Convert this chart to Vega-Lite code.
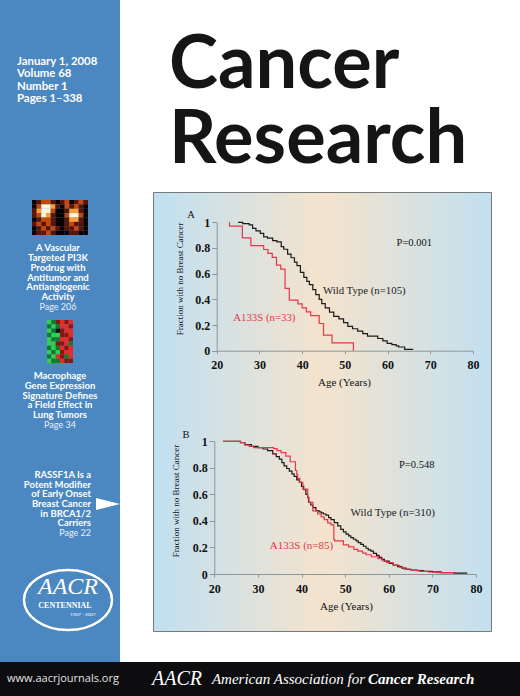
{
  "$schema": "https://vega.github.io/schema/vega-lite/v6.json",
  "padding": 0,
  "background": "#ffffff",
  "spacing": 0,
  "config": {"view": {"stroke": null}, "concat": {"spacing": 0}, "font": "Liberation Serif"},
  "datasets": {
    "kmA": [
      {"group": "Wild Type", "age": 25, "frac": 1.0},
      {"group": "Wild Type", "age": 26.1, "frac": 0.99},
      {"group": "Wild Type", "age": 27.6, "frac": 0.98},
      {"group": "Wild Type", "age": 28.4, "frac": 0.952},
      {"group": "Wild Type", "age": 29.2, "frac": 0.933},
      {"group": "Wild Type", "age": 30.2, "frac": 0.914},
      {"group": "Wild Type", "age": 31, "frac": 0.886},
      {"group": "Wild Type", "age": 31.9, "frac": 0.876},
      {"group": "Wild Type", "age": 33.1, "frac": 0.857},
      {"group": "Wild Type", "age": 34.1, "frac": 0.848},
      {"group": "Wild Type", "age": 35.1, "frac": 0.81},
      {"group": "Wild Type", "age": 35.7, "frac": 0.79},
      {"group": "Wild Type", "age": 36.6, "frac": 0.752},
      {"group": "Wild Type", "age": 37.4, "frac": 0.724},
      {"group": "Wild Type", "age": 38.2, "frac": 0.69},
      {"group": "Wild Type", "age": 38.8, "frac": 0.662},
      {"group": "Wild Type", "age": 39.6, "frac": 0.61},
      {"group": "Wild Type", "age": 40.4, "frac": 0.571},
      {"group": "Wild Type", "age": 41.1, "frac": 0.54},
      {"group": "Wild Type", "age": 41.7, "frac": 0.514},
      {"group": "Wild Type", "age": 42.5, "frac": 0.476},
      {"group": "Wild Type", "age": 43.2, "frac": 0.436},
      {"group": "Wild Type", "age": 44, "frac": 0.4},
      {"group": "Wild Type", "age": 44.6, "frac": 0.366},
      {"group": "Wild Type", "age": 45.4, "frac": 0.333},
      {"group": "Wild Type", "age": 46.4, "frac": 0.3},
      {"group": "Wild Type", "age": 47.4, "frac": 0.268},
      {"group": "Wild Type", "age": 48.6, "frac": 0.248},
      {"group": "Wild Type", "age": 49.7, "frac": 0.219},
      {"group": "Wild Type", "age": 50.7, "frac": 0.19},
      {"group": "Wild Type", "age": 51.8, "frac": 0.171},
      {"group": "Wild Type", "age": 53, "frac": 0.152},
      {"group": "Wild Type", "age": 54.2, "frac": 0.133},
      {"group": "Wild Type", "age": 55.3, "frac": 0.114},
      {"group": "Wild Type", "age": 57.7, "frac": 0.095},
      {"group": "Wild Type", "age": 58.9, "frac": 0.076},
      {"group": "Wild Type", "age": 59.9, "frac": 0.057},
      {"group": "Wild Type", "age": 61, "frac": 0.048},
      {"group": "Wild Type", "age": 62, "frac": 0.038},
      {"group": "Wild Type", "age": 62.6, "frac": 0.029},
      {"group": "Wild Type", "age": 64, "frac": 0.01},
      {"group": "Wild Type", "age": 66, "frac": 0.01},
      {"group": "A133S", "age": 22.99, "frac": 1.0},
      {"group": "A133S", "age": 23, "frac": 0.97},
      {"group": "A133S", "age": 26, "frac": 0.879},
      {"group": "A133S", "age": 28, "frac": 0.818},
      {"group": "A133S", "age": 31, "frac": 0.788},
      {"group": "A133S", "age": 32, "frac": 0.758},
      {"group": "A133S", "age": 33, "frac": 0.727},
      {"group": "A133S", "age": 34, "frac": 0.667},
      {"group": "A133S", "age": 35, "frac": 0.636},
      {"group": "A133S", "age": 36, "frac": 0.485},
      {"group": "A133S", "age": 37, "frac": 0.394},
      {"group": "A133S", "age": 39, "frac": 0.364},
      {"group": "A133S", "age": 40, "frac": 0.333},
      {"group": "A133S", "age": 41, "frac": 0.303},
      {"group": "A133S", "age": 42, "frac": 0.273},
      {"group": "A133S", "age": 44, "frac": 0.212},
      {"group": "A133S", "age": 45, "frac": 0.121},
      {"group": "A133S", "age": 47, "frac": 0.061},
      {"group": "A133S", "age": 52, "frac": 0.0}
    ],
    "kmB": [
      {"group": "Wild Type", "age": 22, "frac": 1.0},
      {"group": "Wild Type", "age": 26, "frac": 0.99},
      {"group": "Wild Type", "age": 27, "frac": 0.975},
      {"group": "Wild Type", "age": 28.5, "frac": 0.962},
      {"group": "Wild Type", "age": 30, "frac": 0.952},
      {"group": "Wild Type", "age": 31.2, "frac": 0.942},
      {"group": "Wild Type", "age": 32.2, "frac": 0.93},
      {"group": "Wild Type", "age": 33.4, "frac": 0.905},
      {"group": "Wild Type", "age": 34.2, "frac": 0.885},
      {"group": "Wild Type", "age": 34.9, "frac": 0.865},
      {"group": "Wild Type", "age": 35.5, "frac": 0.84},
      {"group": "Wild Type", "age": 36, "frac": 0.815},
      {"group": "Wild Type", "age": 36.6, "frac": 0.795},
      {"group": "Wild Type", "age": 37.2, "frac": 0.775},
      {"group": "Wild Type", "age": 37.8, "frac": 0.755},
      {"group": "Wild Type", "age": 38.3, "frac": 0.735},
      {"group": "Wild Type", "age": 38.9, "frac": 0.71},
      {"group": "Wild Type", "age": 39.5, "frac": 0.69},
      {"group": "Wild Type", "age": 40, "frac": 0.66},
      {"group": "Wild Type", "age": 40.5, "frac": 0.635},
      {"group": "Wild Type", "age": 41, "frac": 0.6},
      {"group": "Wild Type", "age": 41.4, "frac": 0.575},
      {"group": "Wild Type", "age": 41.6, "frac": 0.54},
      {"group": "Wild Type", "age": 42.1, "frac": 0.52},
      {"group": "Wild Type", "age": 42.6, "frac": 0.5},
      {"group": "Wild Type", "age": 43.3, "frac": 0.477},
      {"group": "Wild Type", "age": 44, "frac": 0.468},
      {"group": "Wild Type", "age": 44.5, "frac": 0.46},
      {"group": "Wild Type", "age": 45, "frac": 0.452},
      {"group": "Wild Type", "age": 45.6, "frac": 0.443},
      {"group": "Wild Type", "age": 46.2, "frac": 0.425},
      {"group": "Wild Type", "age": 46.75, "frac": 0.41},
      {"group": "Wild Type", "age": 47.5, "frac": 0.387},
      {"group": "Wild Type", "age": 48.3, "frac": 0.362},
      {"group": "Wild Type", "age": 49, "frac": 0.337},
      {"group": "Wild Type", "age": 49.6, "frac": 0.318},
      {"group": "Wild Type", "age": 50.2, "frac": 0.3},
      {"group": "Wild Type", "age": 50.8, "frac": 0.287},
      {"group": "Wild Type", "age": 51.3, "frac": 0.274},
      {"group": "Wild Type", "age": 51.9, "frac": 0.262},
      {"group": "Wild Type", "age": 52.5, "frac": 0.249},
      {"group": "Wild Type", "age": 53, "frac": 0.236},
      {"group": "Wild Type", "age": 53.6, "frac": 0.224},
      {"group": "Wild Type", "age": 54.2, "frac": 0.209},
      {"group": "Wild Type", "age": 54.8, "frac": 0.194},
      {"group": "Wild Type", "age": 55.3, "frac": 0.182},
      {"group": "Wild Type", "age": 55.9, "frac": 0.172},
      {"group": "Wild Type", "age": 56.5, "frac": 0.155},
      {"group": "Wild Type", "age": 57.2, "frac": 0.14},
      {"group": "Wild Type", "age": 57.8, "frac": 0.125},
      {"group": "Wild Type", "age": 58.4, "frac": 0.11},
      {"group": "Wild Type", "age": 59, "frac": 0.097},
      {"group": "Wild Type", "age": 60.1, "frac": 0.08},
      {"group": "Wild Type", "age": 61, "frac": 0.068},
      {"group": "Wild Type", "age": 62, "frac": 0.055},
      {"group": "Wild Type", "age": 63, "frac": 0.045},
      {"group": "Wild Type", "age": 64, "frac": 0.035},
      {"group": "Wild Type", "age": 65, "frac": 0.03},
      {"group": "Wild Type", "age": 66.5, "frac": 0.026},
      {"group": "Wild Type", "age": 68, "frac": 0.02},
      {"group": "Wild Type", "age": 70, "frac": 0.016},
      {"group": "Wild Type", "age": 72, "frac": 0.01},
      {"group": "Wild Type", "age": 75, "frac": 0.006},
      {"group": "Wild Type", "age": 78, "frac": 0.006},
      {"group": "A133S", "age": 22, "frac": 1.0},
      {"group": "A133S", "age": 26, "frac": 0.99},
      {"group": "A133S", "age": 27, "frac": 0.972},
      {"group": "A133S", "age": 28, "frac": 0.962},
      {"group": "A133S", "age": 29, "frac": 0.953},
      {"group": "A133S", "age": 33.6, "frac": 0.945},
      {"group": "A133S", "age": 34.4, "frac": 0.93},
      {"group": "A133S", "age": 35.3, "frac": 0.915},
      {"group": "A133S", "age": 36.4, "frac": 0.889},
      {"group": "A133S", "age": 37.4, "frac": 0.846},
      {"group": "A133S", "age": 38.6, "frac": 0.78},
      {"group": "A133S", "age": 38.9, "frac": 0.75},
      {"group": "A133S", "age": 39.1, "frac": 0.72},
      {"group": "A133S", "age": 39.6, "frac": 0.69},
      {"group": "A133S", "age": 40.3, "frac": 0.64},
      {"group": "A133S", "age": 41.4, "frac": 0.58},
      {"group": "A133S", "age": 41.7, "frac": 0.54},
      {"group": "A133S", "age": 42.6, "frac": 0.475},
      {"group": "A133S", "age": 43.7, "frac": 0.452},
      {"group": "A133S", "age": 44.5, "frac": 0.43},
      {"group": "A133S", "age": 45.2, "frac": 0.41},
      {"group": "A133S", "age": 46, "frac": 0.385},
      {"group": "A133S", "age": 46.75, "frac": 0.37},
      {"group": "A133S", "age": 47.4, "frac": 0.26},
      {"group": "A133S", "age": 47.6, "frac": 0.249},
      {"group": "A133S", "age": 49.6, "frac": 0.22},
      {"group": "A133S", "age": 50.8, "frac": 0.205},
      {"group": "A133S", "age": 52, "frac": 0.185},
      {"group": "A133S", "age": 52.9, "frac": 0.172},
      {"group": "A133S", "age": 54, "frac": 0.158},
      {"group": "A133S", "age": 54.8, "frac": 0.145},
      {"group": "A133S", "age": 56, "frac": 0.13},
      {"group": "A133S", "age": 57.5, "frac": 0.115},
      {"group": "A133S", "age": 58.5, "frac": 0.1},
      {"group": "A133S", "age": 59.5, "frac": 0.085},
      {"group": "A133S", "age": 61, "frac": 0.065},
      {"group": "A133S", "age": 62.5, "frac": 0.05},
      {"group": "A133S", "age": 63.5, "frac": 0.037},
      {"group": "A133S", "age": 65, "frac": 0.028},
      {"group": "A133S", "age": 67, "frac": 0.02},
      {"group": "A133S", "age": 69, "frac": 0.015},
      {"group": "A133S", "age": 71, "frac": 0.01},
      {"group": "A133S", "age": 75, "frac": 0.01}
    ],
    "notesA": [
      {"kind": "note", "age": 14, "frac": 1.057, "text": "A"},
      {"kind": "note", "age": 66.25, "frac": 0.836, "text": "P=0.001"},
      {"kind": "label", "group": "Wild Type", "age": 54.55, "frac": 0.465, "text": "Wild Type (n=105)"},
      {"kind": "label", "group": "A133S", "age": 31.15, "frac": 0.257, "text": "A133S (n=33)"}
    ],
    "notesB": [
      {"kind": "note", "age": 13.5, "frac": 1.045, "text": "B"},
      {"kind": "note", "age": 66.4, "frac": 0.821, "text": "P=0.548"},
      {"kind": "label", "group": "Wild Type", "age": 60.9, "frac": 0.457, "text": "Wild Type  (n=310)"},
      {"kind": "label", "group": "A133S", "age": 40.0, "frac": 0.211, "text": "A133S (n=85)"}
    ],
    "footer": [
      {"part": "url", "text": "www.aacrjournals.org"},
      {"part": "logo", "text": "AACR"},
      {"part": "society", "text": "American Association for"},
      {"part": "journal", "text": "Cancer Research"}
    ]
  },
  "vconcat": [
    {
      "spacing": 32,
      "hconcat": [
        {
          "width": 120,
          "height": 662,
          "view": {"fill": "#4b87c0", "stroke": null},
          "resolve": {"scale": {"x": "independent", "y": "independent", "color": "independent"}},
          "layer": [
            {
              "data": {"values": [
                {"line": 1, "text": "January 1, 2008"},
                {"line": 2, "text": "Volume 68"},
                {"line": 3, "text": "Number 1"},
                {"line": 4, "text": "Pages 1–338"}
              ]},
              "mark": {"type": "text", "align": "left", "baseline": "middle", "dx": -43, "font": "Lato", "fontWeight": "bold", "fontSize": 11.4, "color": "#ffffff"},
              "encoding": {
                "y": {"field": "line", "type": "ordinal", "scale": {"type": "point", "range": [62, 99], "padding": 0}, "axis": null},
                "text": {"field": "text"}
              }
            },
            {
              "data": {"values": [
                {"row": 0, "a": 0, "b": 1, "c": 2, "d": 2, "e": 1, "f": 0, "g": 1, "h": 2, "i": 0, "j": 1, "k": 2, "l": 1},
                {"row": 1, "a": 0, "b": 2, "c": 4, "d": 4, "e": 3, "f": 1, "g": 0, "h": 2, "i": 1, "j": 2, "k": 1, "l": 0},
                {"row": 2, "a": 1, "b": 3, "c": 4, "d": 4, "e": 2, "f": 0, "g": 0, "h": 1, "i": 3, "j": 3, "k": 1, "l": 0},
                {"row": 3, "a": 1, "b": 2, "c": 4, "d": 3, "e": 1, "f": 0, "g": 0, "h": 2, "i": 4, "j": 4, "k": 2, "l": 0},
                {"row": 4, "a": 0, "b": 1, "c": 2, "d": 2, "e": 1, "f": 0, "g": 0, "h": 1, "i": 3, "j": 3, "k": 1, "l": 0},
                {"row": 5, "a": 1, "b": 2, "c": 1, "d": 2, "e": 1, "f": 0, "g": 0, "h": 1, "i": 2, "j": 1, "k": 1, "l": 0},
                {"row": 6, "a": 0, "b": 1, "c": 2, "d": 1, "e": 2, "f": 1, "g": 0, "h": 1, "i": 1, "j": 2, "k": 1, "l": 0},
                {"row": 7, "a": 0, "b": 1, "c": 1, "d": 2, "e": 1, "f": 0, "g": 0, "h": 0, "i": 1, "j": 1, "k": 0, "l": 0}
              ]},
              "transform": [{"fold": ["a", "b", "c", "d", "e", "f", "g", "h", "i", "j", "k", "l"], "as": ["col", "v"]}],
              "mark": {"type": "rect"},
              "encoding": {
                "x": {"field": "col", "type": "ordinal", "scale": {"type": "band", "range": [32, 88], "paddingInner": 0, "paddingOuter": 0}, "axis": null},
                "y": {"field": "row", "type": "ordinal", "scale": {"type": "band", "range": [200, 235], "paddingInner": 0, "paddingOuter": 0}, "axis": null},
                "color": {"field": "v", "type": "quantitative", "scale": {"domain": [0, 1, 2, 3, 4], "range": ["#080000", "#5e1200", "#c84606", "#ff9c34", "#fff6dc"]}, "legend": null}
              }
            },
            {
              "data": {"values": [
                {"line": 1, "kind": "head", "text": "A Vascular"},
                {"line": 2, "kind": "head", "text": "Targeted PI3K"},
                {"line": 3, "kind": "head", "text": "Prodrug with"},
                {"line": 4, "kind": "head", "text": "Antitumor and"},
                {"line": 5, "kind": "head", "text": "Antiangiogenic"},
                {"line": 6, "kind": "head", "text": "Activity"},
                {"line": 7, "kind": "page", "text": "Page 206"}
              ]},
              "encoding": {
                "y": {"field": "line", "type": "ordinal", "scale": {"type": "point", "range": [248, 307], "padding": 0}, "axis": null},
                "text": {"field": "text"}
              },
              "layer": [
                {"transform": [{"filter": "datum.kind == 'head'"}], "mark": {"type": "text", "align": "center", "baseline": "middle", "dx": -2, "font": "Lato", "fontWeight": "bold", "fontSize": 9.5, "color": "#ffffff"}},
                {"transform": [{"filter": "datum.kind == 'page'"}], "mark": {"type": "text", "align": "center", "baseline": "middle", "dx": -2, "font": "Lato", "fontSize": 9, "color": "#eaf0f8"}}
              ]
            },
            {
              "data": {"values": [
                {"row": 0, "a": -2, "b": -1, "c": 1, "d": 2, "e": 1, "f": 2},
                {"row": 1, "a": -1, "b": -2, "c": -1, "d": 2, "e": 2, "f": 1},
                {"row": 2, "a": -2, "b": -1, "c": 0, "d": 1, "e": 2, "f": 2},
                {"row": 3, "a": -1, "b": -2, "c": -2, "d": 1, "e": 1, "f": 2},
                {"row": 4, "a": -2, "b": -1, "c": -1, "d": 2, "e": 2, "f": 1},
                {"row": 5, "a": -2, "b": -2, "c": 1, "d": 1, "e": 2, "f": -1},
                {"row": 6, "a": -1, "b": -2, "c": -1, "d": 2, "e": 1, "f": 2},
                {"row": 7, "a": -2, "b": -1, "c": -2, "d": 1, "e": 2, "f": 2},
                {"row": 8, "a": -1, "b": -2, "c": 2, "d": 1, "e": -1, "f": 2},
                {"row": 9, "a": -2, "b": -1, "c": -1, "d": 2, "e": 1, "f": 1}
              ]},
              "transform": [{"fold": ["a", "b", "c", "d", "e", "f"], "as": ["col", "v"]}],
              "mark": {"type": "rect"},
              "encoding": {
                "x": {"field": "col", "type": "ordinal", "scale": {"type": "band", "range": [47, 73], "paddingInner": 0, "paddingOuter": 0}, "axis": null},
                "y": {"field": "row", "type": "ordinal", "scale": {"type": "band", "range": [320, 363], "paddingInner": 0, "paddingOuter": 0}, "axis": null},
                "color": {"field": "v", "type": "quantitative", "scale": {"domain": [-2, -1, 0, 1, 2], "range": ["#2ed24e", "#137a2a", "#101010", "#8a1414", "#ea2a22"]}, "legend": null}
              }
            },
            {
              "data": {"values": [
                {"line": 1, "kind": "head", "text": "Macrophage"},
                {"line": 2, "kind": "head", "text": "Gene Expression"},
                {"line": 3, "kind": "head", "text": "Signature Defines"},
                {"line": 4, "kind": "head", "text": "a Field Effect in"},
                {"line": 5, "kind": "head", "text": "Lung Tumors"},
                {"line": 6, "kind": "page", "text": "Page 34"}
              ]},
              "encoding": {
                "y": {"field": "line", "type": "ordinal", "scale": {"type": "point", "range": [376, 425], "padding": 0}, "axis": null},
                "text": {"field": "text"}
              },
              "layer": [
                {"transform": [{"filter": "datum.kind == 'head'"}], "mark": {"type": "text", "align": "center", "baseline": "middle", "font": "Lato", "fontWeight": "bold", "fontSize": 9.5, "color": "#ffffff"}},
                {"transform": [{"filter": "datum.kind == 'page'"}], "mark": {"type": "text", "align": "center", "baseline": "middle", "font": "Lato", "fontSize": 9, "color": "#eaf0f8"}}
              ]
            },
            {
              "data": {"values": [
                {"line": 1, "kind": "head", "text": "RASSF1A Is a"},
                {"line": 2, "kind": "head", "text": "Potent Modifier"},
                {"line": 3, "kind": "head", "text": "of Early Onset"},
                {"line": 4, "kind": "head", "text": "Breast Cancer"},
                {"line": 5, "kind": "head", "text": "in BRCA1/2"},
                {"line": 6, "kind": "head", "text": "Carriers"},
                {"line": 7, "kind": "page", "text": "Page 22"},
                {"line": 4, "kind": "arrow", "text": ""}
              ]},
              "encoding": {
                "y": {"field": "line", "type": "ordinal", "scale": {"type": "point", "range": [475, 533], "padding": 0}, "axis": null}
              },
              "layer": [
                {"transform": [{"filter": "datum.kind == 'head'"}], "mark": {"type": "text", "align": "right", "baseline": "middle", "dx": 31, "font": "Lato", "fontWeight": "bold", "fontSize": 9.5, "color": "#ffffff"}, "encoding": {"text": {"field": "text"}}},
                {"transform": [{"filter": "datum.kind == 'page'"}], "mark": {"type": "text", "align": "right", "baseline": "middle", "dx": 31, "font": "Lato", "fontSize": 9, "color": "#eaf0f8"}, "encoding": {"text": {"field": "text"}}},
                {"transform": [{"filter": "datum.kind == 'arrow'"}], "mark": {"type": "point", "shape": "M1.2,-0.2L2,0L1.2,0.2Z", "size": 3600, "filled": true, "color": "#ffffff", "opacity": 1, "strokeWidth": 0}}
              ]
            },
            {
              "data": {"values": [
                {"line": "ring", "kind": "ring", "text": ""},
                {"line": "AACR", "kind": "mark", "text": "AACR"},
                {"line": "CENTENNIAL", "kind": "name", "text": "CENTENNIAL"},
                {"line": "1907 - 2007", "kind": "years", "text": "1907 - 2007"}
              ]},
              "encoding": {
                "y": {"field": "line", "type": "nominal", "scale": {"type": "point", "domain": ["AACR", "ring", "CENTENNIAL", "1907 - 2007"], "range": [587, 615], "padding": 0}, "axis": null}
              },
              "layer": [
                {"transform": [{"filter": "datum.kind == 'ring'"}], "mark": {"type": "point", "shape": "M-0.818,0.084A1,0.682 0 1,0 1.182,0.084A1,0.682 0 1,0 -0.818,0.084Z", "size": 7744, "filled": false, "stroke": "#ffffff", "strokeWidth": 2.5, "opacity": 1}},
                {"transform": [{"filter": "datum.kind == 'mark'"}], "mark": {"type": "text", "align": "center", "baseline": "middle", "dx": 8, "font": "Liberation Serif", "fontStyle": "italic", "fontSize": 24, "color": "#ffffff"}, "encoding": {"text": {"field": "text"}}},
                {"transform": [{"filter": "datum.kind == 'name'"}], "mark": {"type": "text", "align": "center", "baseline": "middle", "dx": 5, "font": "Liberation Serif", "fontWeight": "bold", "fontSize": 8, "color": "#ffffff"}, "encoding": {"text": {"field": "text"}}},
                {"transform": [{"filter": "datum.kind == 'years'"}], "mark": {"type": "text", "align": "center", "baseline": "middle", "dx": 23, "font": "Lato", "fontSize": 4.6, "color": "#ffffff"}, "encoding": {"text": {"field": "text"}}}
              ]
            }
          ]
        },
        {
          "spacing": 0,
          "vconcat": [
            {
              "width": 338,
              "height": 191,
              "view": {"fill": null, "stroke": null},
              "data": {"values": [
                {"line": 1, "text": "Cancer"},
                {"line": 2, "text": "Research"}
              ]},
              "mark": {"type": "text", "align": "left", "baseline": "alphabetic", "dx": -153, "font": "Lato", "fontWeight": "bold", "fontSize": 74, "color": "#151515"},
              "encoding": {
                "y": {"field": "line", "type": "ordinal", "scale": {"type": "point", "range": [88, 163], "padding": 0}, "axis": null},
                "text": {"field": "text"}
              }
            },
            {
              "width": 338,
              "height": 439,
              "view": {
                "fill": {"gradient": "linear", "x1": 0, "x2": 1, "y1": 0, "y2": 0, "stops": [
                  {"offset": 0, "color": "#c0e0f2"},
                  {"offset": 0.5, "color": "#f4e3cd"},
                  {"offset": 1, "color": "#c2e0f0"}
                ]},
                "stroke": "#767a7d",
                "strokeWidth": 1
              },
              "resolve": {"scale": {"x": "independent", "y": "independent"}, "axis": {"x": "independent", "y": "independent"}},
              "layer": [
                {
                  "layer": [
                    {
                      "data": {"name": "kmA"},
                      "mark": {"type": "line", "interpolate": "step-after", "strokeWidth": 1.2},
                      "encoding": {
                        "x": {"field": "age", "type": "quantitative",
                          "scale": {"domain": [20, 80], "range": [63.7, 320], "nice": false},
                          "axis": {"orient": "bottom", "offset": -280.3, "values": [20, 30, 40, 50, 60, 70, 80], "format": "d", "grid": false,
                            "domainColor": "#8c979c", "tickColor": "#8c979c", "tickSize": 3, "labelFlush": false, "labelOverlap": false,
                            "labelFont": "Liberation Serif", "labelFontSize": 12, "labelFontWeight": "bold", "labelColor": "#111111", "labelPadding": 6,
                            "title": "Age (Years)", "titleFont": "Liberation Serif", "titleFontSize": 11, "titleFontWeight": "normal", "titleColor": "#111111",
                            "titleX": 191, "titleY": 32, "titleBaseline": "middle", "titleAlign": "center"}},
                        "y": {"field": "frac", "type": "quantitative",
                          "scale": {"domain": [0, 1], "range": [158.7, 30.3], "nice": false},
                          "axis": {"orient": "left", "offset": -63.7, "values": [0, 0.2, 0.4, 0.6, 0.8, 1], "format": "~g", "grid": false,
                            "domainColor": "#8c979c", "tickColor": "#8c979c", "tickSize": 5, "labelPadding": 2,
                            "labelFont": "Liberation Serif", "labelFontSize": 12, "labelFontWeight": "bold", "labelColor": "#111111",
                            "title": "Fraction with no Breast Cancer", "titleFont": "Liberation Serif", "titleFontSize": 9, "titleFontWeight": "normal", "titleColor": "#111111",
                            "titleX": -37.4, "titleY": 86.6, "titleAngle": -90, "titleBaseline": "middle", "titleAlign": "center"}},
                        "color": {"field": "group", "type": "nominal", "scale": {"domain": ["Wild Type", "A133S"], "range": ["#1b1b1b", "#e2384a"]}, "legend": null}
                      }
                    },
                    {
                      "data": {"name": "notesA"},
                      "transform": [{"filter": "datum.kind == 'label'"}],
                      "mark": {"type": "text", "font": "Liberation Serif", "fontSize": 10.8, "align": "center", "baseline": "middle"},
                      "encoding": {
                        "x": {"field": "age", "type": "quantitative"},
                        "y": {"field": "frac", "type": "quantitative"},
                        "text": {"field": "text"},
                        "color": {"field": "group", "type": "nominal", "legend": null}
                      }
                    },
                    {
                      "data": {"name": "notesA"},
                      "transform": [{"filter": "datum.kind == 'note'"}],
                      "mark": {"type": "text", "font": "Liberation Serif", "fontSize": 10.5, "align": "center", "baseline": "middle", "color": "#111111"},
                      "encoding": {
                        "x": {"field": "age", "type": "quantitative"},
                        "y": {"field": "frac", "type": "quantitative"},
                        "text": {"field": "text"}
                      }
                    }
                  ]
                },
                {
                  "layer": [
                    {
                      "data": {"name": "kmB"},
                      "mark": {"type": "line", "interpolate": "step-after", "strokeWidth": 1.2},
                      "encoding": {
                        "x": {"field": "age", "type": "quantitative",
                          "scale": {"domain": [20, 80], "range": [61.3, 323], "nice": false},
                          "axis": {"orient": "bottom", "offset": -57, "values": [20, 30, 40, 50, 60, 70, 80], "format": "d", "grid": false,
                            "domainColor": "#8c979c", "tickColor": "#8c979c", "tickSize": 3, "labelFlush": false, "labelOverlap": false,
                            "labelFont": "Liberation Serif", "labelFontSize": 12, "labelFontWeight": "bold", "labelColor": "#111111", "labelPadding": 6,
                            "title": "Age (Years)", "titleFont": "Liberation Serif", "titleFontSize": 11, "titleFontWeight": "normal", "titleColor": "#111111",
                            "titleX": 193, "titleY": 32, "titleBaseline": "middle", "titleAlign": "center"}},
                        "y": {"field": "frac", "type": "quantitative",
                          "scale": {"domain": [0, 1], "range": [382, 249.3], "nice": false},
                          "axis": {"orient": "left", "offset": -61.3, "values": [0, 0.2, 0.4, 0.6, 0.8, 1], "format": "~g", "grid": false,
                            "domainColor": "#8c979c", "tickColor": "#8c979c", "tickSize": 5, "labelPadding": 2,
                            "labelFont": "Liberation Serif", "labelFontSize": 12, "labelFontWeight": "bold", "labelColor": "#111111",
                            "title": "Fraction with no Breast Cancer", "titleFont": "Liberation Serif", "titleFontSize": 9, "titleFontWeight": "normal", "titleColor": "#111111",
                            "titleX": -39.3, "titleY": 308.5, "titleAngle": -90, "titleBaseline": "middle", "titleAlign": "center"}},
                        "color": {"field": "group", "type": "nominal", "scale": {"domain": ["Wild Type", "A133S"], "range": ["#1b1b1b", "#e2384a"]}, "legend": null}
                      }
                    },
                    {
                      "data": {"name": "notesB"},
                      "transform": [{"filter": "datum.kind == 'label'"}],
                      "mark": {"type": "text", "font": "Liberation Serif", "fontSize": 11, "align": "center", "baseline": "middle"},
                      "encoding": {
                        "x": {"field": "age", "type": "quantitative"},
                        "y": {"field": "frac", "type": "quantitative"},
                        "text": {"field": "text"},
                        "color": {"field": "group", "type": "nominal", "legend": null}
                      }
                    },
                    {
                      "data": {"name": "notesB"},
                      "transform": [{"filter": "datum.kind == 'note'"}],
                      "mark": {"type": "text", "font": "Liberation Serif", "fontSize": 10.5, "align": "center", "baseline": "middle", "color": "#111111"},
                      "encoding": {
                        "x": {"field": "age", "type": "quantitative"},
                        "y": {"field": "frac", "type": "quantitative"},
                        "text": {"field": "text"}
                      }
                    }
                  ]
                }
              ]
            }
          ]
        }
      ]
    },
    {
      "width": 520,
      "height": 34,
      "view": {"fill": "#0d0d10", "stroke": null},
      "data": {"name": "footer"},
      "layer": [
        {"transform": [{"filter": "datum.part == 'url'"}], "mark": {"type": "text", "align": "left", "baseline": "middle", "dx": -253, "font": "Open Sans", "fontSize": 11, "color": "#e4e4e4"}, "encoding": {"text": {"field": "text"}}},
        {"transform": [{"filter": "datum.part == 'logo'"}], "mark": {"type": "text", "align": "left", "baseline": "middle", "dx": -108, "font": "Liberation Serif", "fontStyle": "italic", "fontSize": 20, "color": "#ffffff"}, "encoding": {"text": {"field": "text"}}},
        {"transform": [{"filter": "datum.part == 'society'"}], "mark": {"type": "text", "align": "right", "baseline": "middle", "dx": 105, "font": "Liberation Serif", "fontStyle": "italic", "fontSize": 15, "color": "#ffffff"}, "encoding": {"text": {"field": "text"}}},
        {"transform": [{"filter": "datum.part == 'journal'"}], "mark": {"type": "text", "align": "left", "baseline": "middle", "dx": 108, "font": "Liberation Serif", "fontStyle": "italic", "fontWeight": "bold", "fontSize": 15, "color": "#ffffff"}, "encoding": {"text": {"field": "text"}}}
      ]
    }
  ]
}
